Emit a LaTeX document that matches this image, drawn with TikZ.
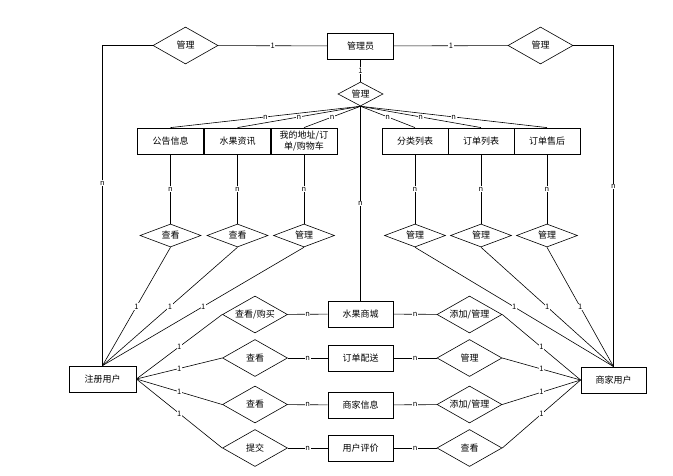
\documentclass[tikz,border=0pt]{standalone}
\usepackage{fontspec}
\setmainfont{Noto Sans CJK SC}
\usepackage{tikz}
\usetikzlibrary{shapes.geometric}
\tikzstyle{box} = [rectangle, draw=black, line width=0.8pt, minimum width=66pt, minimum height=26pt, inner sep=1pt, align=center, font=\fontsize{9}{10.5}\selectfont]
\tikzstyle{rel} = [diamond, draw=black, line width=0.6pt, aspect=1.8, minimum width=65pt, minimum height=37pt, inner sep=0pt, font=\fontsize{9}{10}\selectfont]
\tikzstyle{small} = [rel, aspect=2.6, minimum width=61pt, minimum height=23pt]
\tikzstyle{line} = [line width=0.6pt]
\tikzstyle{card} = [fill=white, inner sep=0.6pt, font=\fontsize{7.5}{8}\selectfont]

\begin{document}
\begin{tikzpicture}[x=1pt, y=-1pt]
  \useasboundingbox (0,0) rectangle (673,476);

  \node (1) [box] at (360.5,46) {管理员};
  \node (2) [rel] at (185.5,45.5) {管理};
  \node (3) [rel] at (540.5,45.5) {管理};
  \node (4) [small, aspect=1.9, minimum width=45pt, minimum height=24pt] at (360.5,94) {管理};

  \node (5) [box] at (170.5,141) {公告信息};
  \node (6) [box] at (237.5,141) {水果资讯};
  \node (7) [box] at (304,141) {我的地址/订\\单/购物车};
  \node (8) [box] at (415,141) {分类列表};
  \node (9) [box] at (481,141) {订单列表};
  \node (10) [box] at (547,141) {订单售后};

  \node (11) [small] at (170.5,235.5) {查看};
  \node (12) [small] at (237.5,235.5) {查看};
  \node (13) [small] at (304,235.5) {管理};
  \node (14) [small] at (415,235.5) {管理};
  \node (15) [small] at (481,235.5) {管理};
  \node (16) [small] at (547,235.5) {管理};

  \node (17) [box, minimum width=67pt] at (102.5,379) {注册用户};
  \node (18) [box, minimum width=65pt] at (613.5,380) {商家用户};

  \node (19) [box, minimum width=65pt] at (360.5,314) {水果商城};
  \node (20) [box, minimum width=65pt] at (360.5,358) {订单配送};
  \node (21) [box, minimum width=65pt] at (360.5,405) {商家信息};
  \node (22) [box, minimum width=65pt] at (360.5,448) {用户评价};

  \node (23) [rel] at (255,314.5) {查看/购买};
  \node (24) [rel] at (255,358) {查看};
  \node (25) [rel] at (255,404.5) {查看};
  \node (26) [rel] at (255,448) {提交};
  \node (27) [rel] at (469.5,314.5) {添加/管理};
  \node (28) [rel] at (469.5,358) {管理};
  \node (29) [rel] at (469.5,404.5) {添加/管理};
  \node (30) [rel] at (469.5,448) {查看};

  % admin
  \draw [line] (2) -- node[card] {1} (1);
  \draw [line] (1) -- node[card] {1} (3);
  \draw [line] (1) -- node[card] {1} (4);
  \draw [line] (2.west) -| node[card, pos=0.715] {n} (17.north);
  \draw [line] (3.east) -| node[card, pos=0.72] {n} (18.north);
  \draw [line] (4.south) -- node[card] {n} (5.north);
  \draw [line] (4.south) -- node[card] {n} (6.north);
  \draw [line] (4.south) -- node[card] {n} (7.north);
  \draw [line] (4.south) -- node[card] {n} (8.north);
  \draw [line] (4.south) -- node[card] {n} (9.north);
  \draw [line] (4.south) -- node[card] {n} (10.north);
  \draw [line] (4.south) -- node[card] {n} (19.north);

  % top entities
  \draw [line] (5) -- node[card] {n} (11);
  \draw [line] (6) -- node[card] {n} (12);
  \draw [line] (7) -- node[card] {n} (13);
  \draw [line] (8) -- node[card] {n} (14);
  \draw [line] (9) -- node[card] {n} (15);
  \draw [line] (10) -- node[card] {n} (16);
  \draw [line] (11.south) -- node[card] {1} (17.north);
  \draw [line] (12.south) -- node[card] {1} (17.north);
  \draw [line] (13.south) -- node[card] {1} (17.north);
  \draw [line] (14.south) -- node[card] {1} (18.north);
  \draw [line] (15.south) -- node[card] {1} (18.north);
  \draw [line] (16.south) -- node[card] {1} (18.north);

  % middle rows
  \draw [line] (17.east) -- node[card] {1} (23.west);
  \draw [line] (17.east) -- node[card] {1} (24.west);
  \draw [line] (17.east) -- node[card] {1} (25.west);
  \draw [line] (17.east) -- node[card] {1} (26.west);
  \draw [line] (23) -- node[card] {n} (19);
  \draw [line] (24) -- node[card] {n} (20);
  \draw [line] (25) -- node[card] {n} (21);
  \draw [line] (26) -- node[card] {n} (22);
  \draw [line] (19) -- node[card] {n} (27);
  \draw [line] (20) -- node[card] {n} (28);
  \draw [line] (21) -- node[card] {n} (29);
  \draw [line] (22) -- node[card] {n} (30);
  \draw [line] (27.east) -- node[card] {1} (18.west);
  \draw [line] (28.east) -- node[card] {1} (18.west);
  \draw [line] (29.east) -- node[card] {1} (18.west);
  \draw [line] (30.east) -- node[card] {1} (18.west);
\end{tikzpicture}
\end{document}
